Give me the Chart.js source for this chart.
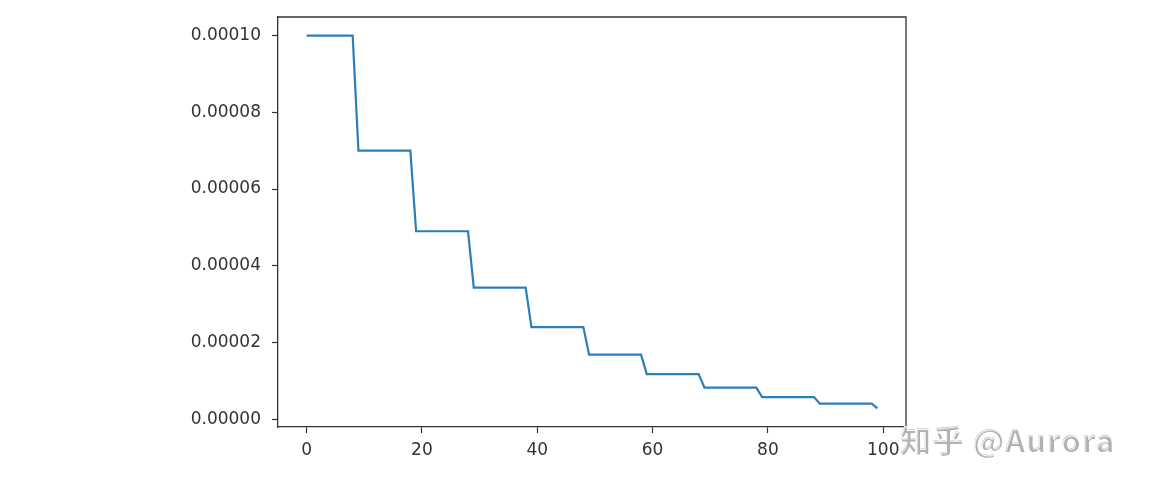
<!DOCTYPE html>
<html>
<head>
<meta charset="utf-8">
<script src="https://cdn.jsdelivr.net/npm/chart.js@4/dist/chart.umd.min.js"></script>
<style>
html,body{margin:0;padding:0;background:#fff;}
#wrap{width:1150px;height:487px;position:relative;}
</style>
</head>
<body>
<div id="wrap"><canvas id="c" width="1150" height="487"></canvas></div>
<script>
const epochs = [0,1,2,3,4,5,6,7,8,9,10,11,12,13,14,15,16,17,18,19,20,21,22,23,24,25,26,27,28,29,30,31,32,33,34,35,36,37,38,39,40,41,42,43,44,45,46,47,48,49,50,51,52,53,54,55,56,57,58,59,60,61,62,63,64,65,66,67,68,69,70,71,72,73,74,75,76,77,78,79,80,81,82,83,84,85,86,87,88,89,90,91,92,93,94,95,96,97,98,99];
const learningRate = [
  0.0001,0.0001,0.0001,0.0001,0.0001,0.0001,0.0001,0.0001,0.0001,
  0.00007,0.00007,0.00007,0.00007,0.00007,0.00007,0.00007,0.00007,0.00007,0.00007,
  0.000049,0.000049,0.000049,0.000049,0.000049,0.000049,0.000049,0.000049,0.000049,0.000049,
  0.0000343,0.0000343,0.0000343,0.0000343,0.0000343,0.0000343,0.0000343,0.0000343,0.0000343,0.0000343,
  0.00002401,0.00002401,0.00002401,0.00002401,0.00002401,0.00002401,0.00002401,0.00002401,0.00002401,0.00002401,
  0.000016807,0.000016807,0.000016807,0.000016807,0.000016807,0.000016807,0.000016807,0.000016807,0.000016807,0.000016807,
  0.0000117649,0.0000117649,0.0000117649,0.0000117649,0.0000117649,0.0000117649,0.0000117649,0.0000117649,0.0000117649,0.0000117649,
  0.00000823543,0.00000823543,0.00000823543,0.00000823543,0.00000823543,0.00000823543,0.00000823543,0.00000823543,0.00000823543,0.00000823543,
  0.000005764801,0.000005764801,0.000005764801,0.000005764801,0.000005764801,0.000005764801,0.000005764801,0.000005764801,0.000005764801,0.000005764801,
  0.0000040353607,0.0000040353607,0.0000040353607,0.0000040353607,0.0000040353607,0.0000040353607,0.0000040353607,0.0000040353607,0.0000040353607,0.0000040353607,
  0.00000282475249
];
const xTicks = [0,20,40,60,80,100];
const yTicks = [0,0.00002,0.00004,0.00006,0.00008,0.0001];
const watermark = "知乎 @Aurora";

const points = epochs.map((e,i)=>({x:e,y:learningRate[i]}));

const framePlugin = {
  id:'frame',
  afterDatasetsDraw(chart){
    const a = chart.chartArea, ctx = chart.ctx;
    ctx.save();
    ctx.strokeStyle = '#333';
    ctx.lineWidth = 1.3;
    ctx.beginPath();
    ctx.moveTo(a.left, a.top); ctx.lineTo(a.right, a.top); ctx.lineTo(a.right, a.bottom);
    ctx.stroke();
    ctx.restore();
  }
};
const watermarkPlugin = {
  id:'wm',
  afterDraw(chart){
    const ctx = chart.ctx;
    ctx.save();
    ctx.font = 'bold 31px "Noto Sans CJK SC", "Liberation Sans", sans-serif';
    ctx.textBaseline = 'alphabetic';
    ctx.textAlign = 'left';
    try { ctx.letterSpacing = '1.2px'; } catch(e) {}
    ctx.lineJoin = 'round';
    ctx.fillStyle = '#b2b2b2';
    ctx.fillText(watermark, 900, 452);
    ctx.strokeStyle = 'rgba(255,255,255,0.9)';
    ctx.lineWidth = 1;
    ctx.strokeText(watermark, 900.5, 452.5);
    ctx.restore();
  }
};
const bgPlugin = {
  id:'bg',
  beforeDraw(chart){
    const ctx = chart.ctx;
    ctx.save();
    ctx.fillStyle='#fff';
    ctx.fillRect(0,0,chart.width,chart.height);
    ctx.restore();
  }
};

new Chart(document.getElementById('c'), {
  type:'line',
  data:{datasets:[{data:points,borderColor:'#2a7fba',borderWidth:2.2,pointRadius:0,tension:0,fill:false}]},
  options:{
    responsive:false,
    animation:false,
    layout:{padding:{left:0,right:244,top:17,bottom:0}},
    plugins:{legend:{display:false},tooltip:{enabled:false}},
    scales:{
      x:{
        type:'linear',
        min:-4.95, max:103.95,
        afterBuildTicks(s){ s.ticks = xTicks.map(v=>({value:v})); },
        afterFit(s){ s.height = 60; s.paddingLeft = 0; s.paddingRight = 0; },
        grid:{drawOnChartArea:false, drawTicks:true, tickLength:6, color:'#333', tickWidth:1.2},
        border:{display:true,color:'#333',width:1.3},
        ticks:{color:'#333',font:{family:'"DejaVu Sans"',size:17},padding:7,maxRotation:0,autoSkip:false}
      },
      y:{
        type:'linear',
        min:-0.00000204, max:0.00010486,
        afterBuildTicks(s){ s.ticks = yTicks.map(v=>({value:v})); },
        afterFit(s){ s.width = 278; s.paddingTop = 0; s.paddingBottom = 0; },
        grid:{drawOnChartArea:false, drawTicks:true, tickLength:6, color:'#333', tickWidth:1.2},
        border:{display:true,color:'#333',width:1.3},
        ticks:{color:'#333',font:{family:'"DejaVu Sans"',size:17},padding:11,callback:v=>Number(v).toFixed(5)}
      }
    }
  },
  plugins:[bgPlugin, framePlugin, watermarkPlugin]
});
</script>
</body>
</html>
